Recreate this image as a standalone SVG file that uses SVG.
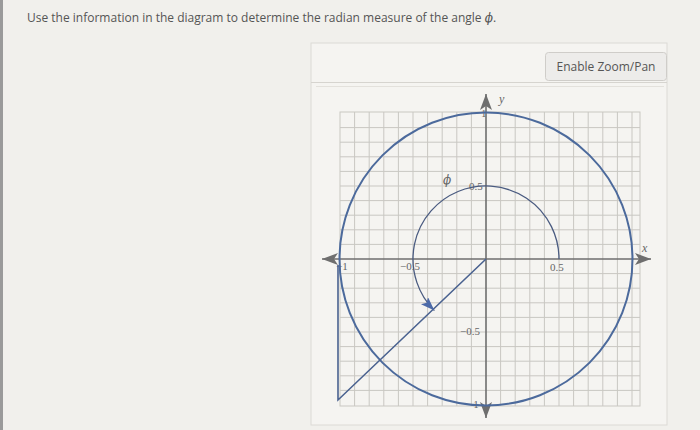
<svg xmlns="http://www.w3.org/2000/svg" width="700" height="430" viewBox="0 0 700 430">
  <defs>
    <style>
      .q { font-family: "Open Sans", "Liberation Sans", sans-serif; font-size: 12px; fill: #555; }
      .btn { font-family: "Open Sans", "Liberation Sans", sans-serif; font-size: 12px; fill: #555; }
      .grid { stroke: #c9c7c2; stroke-width: 1; fill: none; }
      .axis { stroke: #6e6e6e; stroke-width: 1.6; fill: none; }
      .lbl { font-family: "Liberation Serif", "DejaVu Serif", serif; font-size: 11px; fill: #666; }
      .var { font-family: "Liberation Serif", "DejaVu Serif", serif; font-size: 12px; font-style: italic; fill: #666; }
      .blue { stroke: #4c6a9c; fill: none; }
    </style>
    <marker id="axArrow" viewBox="0 0 16 12" refX="16" refY="6" markerWidth="16" markerHeight="12" markerUnits="userSpaceOnUse" orient="auto-start-reverse">
      <path d="M0,0 L16,6 L0,12 L4,6 Z" fill="#6e6e6e"/>
    </marker>
    <marker id="blueArrow" viewBox="0 0 14 10" refX="14" refY="5" markerWidth="14" markerHeight="10" markerUnits="userSpaceOnUse" orient="auto">
      <path d="M0,0 L14,5 L0,10 L3,5 Z" fill="#4c6aa8"/>
    </marker>
  </defs>

  <rect x="0" y="0" width="700" height="430" fill="#f1f0ec"/>
  <rect x="0" y="0" width="3" height="430" fill="#9a9a9a"/>

  <g id="question">
    <text class="q" x="27" y="22">Use the information in the diagram to determine the radian measure of the angle <tspan font-family="DejaVu Serif, serif" font-style="italic">ϕ</tspan>.</text>
  </g>

  <g id="panel">
    <rect x="311" y="43" width="356" height="382" fill="#f5f4f1" stroke="#dcdad5" stroke-width="1"/>
    <line x1="311" y1="82.5" x2="667" y2="82.5" stroke="#d6d4cf" stroke-width="1"/>
    <line x1="316" y1="86.5" x2="664" y2="86.5" stroke="#e3e1dc" stroke-width="1"/>
  </g>

  <g id="button">
    <rect x="545.5" y="52.5" width="121" height="28" rx="3" fill="#edecea" stroke="#cfcdc9" stroke-width="1"/>
    <text class="btn" x="606" y="71" text-anchor="middle">Enable Zoom/Pan</text>
  </g>

  <g id="grid">
    <rect class="grid" x="340" y="112" width="300" height="294"/>
    <path class="grid" d="M354.6,112V406 M369.2,112V406 M383.8,112V406 M398.4,112V406 M413,112V406 M427.6,112V406 M442.2,112V406 M456.8,112V406 M471.4,112V406 M500.6,112V406 M515.2,112V406 M529.8,112V406 M544.4,112V406 M559,112V406 M573.6,112V406 M588.2,112V406 M602.8,112V406 M617.4,112V406 M632,112V406
      M340,127.6H640 M340,142.2H640 M340,156.8H640 M340,171.4H640 M340,186H640 M340,200.6H640 M340,215.2H640 M340,229.8H640 M340,244.4H640 M340,273.6H640 M340,288.2H640 M340,302.8H640 M340,317.4H640 M340,332H640 M340,346.6H640 M340,361.2H640 M340,375.8H640 M340,390.4H640"/>
  </g>

  <g id="labels">
    <text class="lbl" x="336" y="270">−1</text>
    <text class="lbl" x="400" y="270">−0.5</text>
    <text class="lbl" x="550" y="271">0.5</text>
    <text class="lbl" x="469" y="190">0.5</text>
    <text class="lbl" x="460" y="335">−0.5</text>
    <text class="lbl" x="481" y="117">1</text>
    <text class="lbl" x="467" y="408">−1</text>
    <text class="var" x="499" y="103">y</text>
    <text class="var" x="642" y="252">x</text>
  </g>

  <g id="axes">
    <line class="axis" x1="322" y1="259" x2="651" y2="259" marker-start="url(#axArrow)" marker-end="url(#axArrow)"/>
    <line class="axis" x1="486" y1="418" x2="486" y2="94" marker-start="url(#axArrow)" marker-end="url(#axArrow)"/>
  </g>

  <g id="unit-circle">
    <circle class="blue" cx="486" cy="259" r="146.5" stroke-width="2"/>
  </g>

  <g id="connectors">
    <path d="M486,259 L338,400 L338,265" fill="none" stroke="#4a6290" stroke-width="1.6"/>
    <path d="M559,259 A73,73 0 1 0 434.4,310.6" fill="none" stroke="#4a5b80" stroke-width="1.3" marker-end="url(#blueArrow)"/>
  </g>

  <g id="angle-label">
    <text x="443" y="184" font-family="DejaVu Serif, serif" font-style="italic" font-size="12" fill="#666">ϕ</text>
  </g>
</svg>
